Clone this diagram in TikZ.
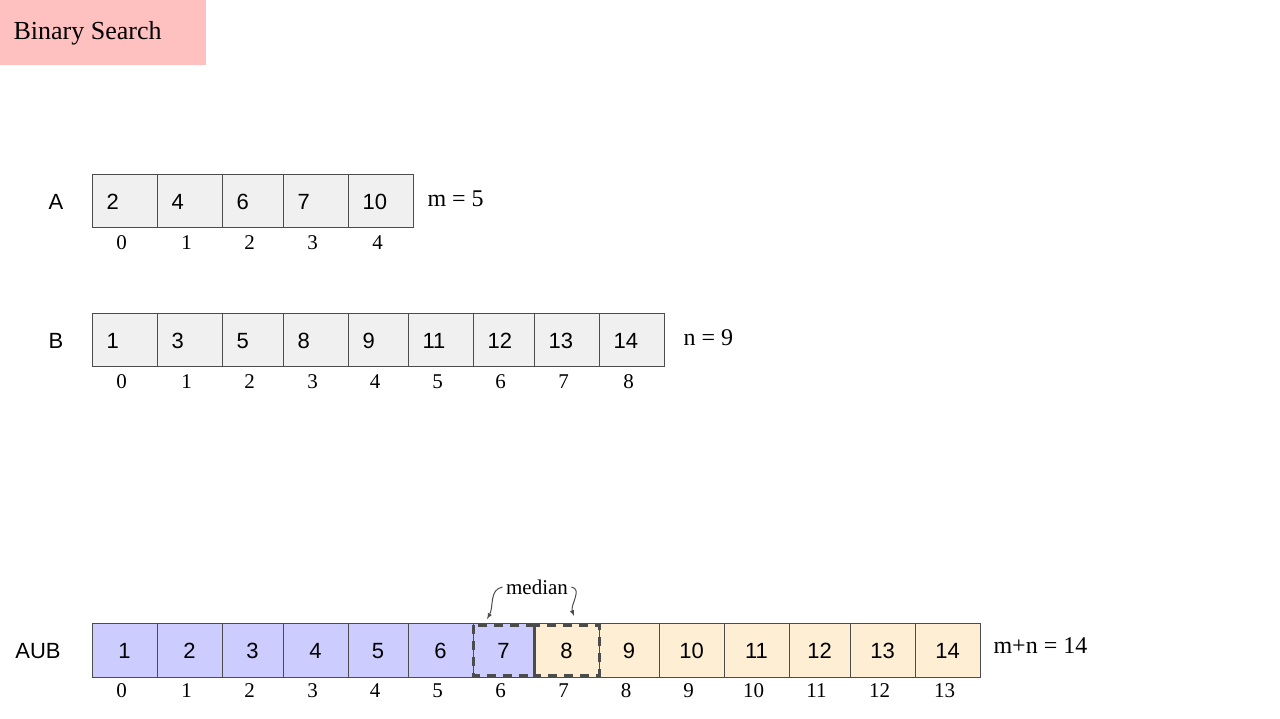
\documentclass[tikz,border=0pt]{standalone}
\usepackage{fontspec}
\setmainfont{Liberation Serif}
\newfontfamily\numfont{Liberation Sans}
\begin{document}
\begin{tikzpicture}[x=1pt,y=-1pt,
  cellA/.style={draw=black!70,line width=0.8pt,fill=black!6},
  cellL/.style={draw=black!70,line width=0.8pt,fill=blue!20!white},
  cellR/.style={draw=black!70,line width=0.8pt,fill=yellow!20!orange!15!white},
  num/.style={font=\numfont\fontsize{22}{24}\selectfont},
  idx/.style={font=\fontsize{21}{24}\selectfont},
  lab/.style={font=\fontsize{24}{26}\selectfont},
  dsh/.style={draw=black!70,line width=3pt,dash pattern=on 9pt off 7pt}]
\useasboundingbox (0,0) rectangle (1280,718);
\fill[red!40!pink!45!white] (0,0) rectangle (206,65);
\node[anchor=west,font=\fontsize{26}{28}\selectfont] (title) at (10,33) {Binary Search};
% A
\node[num] (la) at (56,202) {A};
\foreach \i/\a/\b/\v in {0/92/157/2,1/157/222/4,2/222/283/6,3/283/348/7,4/348/413/10}{
  \draw[cellA] (\a,174) rectangle (\b,227);
  \node[num,anchor=west] (a\i) at (\a+11,202) {\v};
  \node[idx] (ai\i) at ({(\a+\b)/2-3},243) {\i};
}
\node[lab,anchor=west] (m) at (424,199) {m = 5};
% B
\node[num] (lb) at (56,341) {B};
\foreach \i/\a/\b/\v in {0/92/157/1,1/157/222/3,2/222/283/5,3/283/348/8,4/348/408/9,5/408/473/11,6/473/534/12,7/534/599/13,8/599/664/14}{
  \draw[cellA] (\a,313) rectangle (\b,366);
  \node[num,anchor=west] (b\i) at (\a+11,341) {\v};
  \node[idx] (bi\i) at ({(\a+\b)/2-3},382) {\i};
}
\node[lab,anchor=west] (n) at (680,338) {n = 9};
% AUB
\node[num] (lu) at (38,651) {AUB};
\foreach \i/\a/\b/\v in {0/92/157/1,1/157/222/2,2/222/283/3,3/283/348/4,4/348/408/5,5/408/473/6,6/473/534/7}{
  \draw[cellL] (\a,623) rectangle (\b,677);
  \node[num] (u\i) at ({(\a+\b)/2},651) {\v};
  \node[idx] (ui\i) at ({(\a+\b)/2-3},691) {\i};
}
\foreach \i/\a/\b/\v in {7/534/599/8,8/599/659/9,9/659/724/10,10/724/789/11,11/789/850/12,12/850/915/13,13/915/980/14}{
  \draw[cellR] (\a,623) rectangle (\b,677);
  \node[num] (u\i) at ({(\a+\b)/2},651) {\v};
  \node[idx] (ui\i) at ({(\a+\b)/2-3},691) {\i};
}
\node[lab,anchor=west] (mn) at (990,646) {m+n = 14};
\draw[dsh] (473,625) rectangle (534,675);
\draw[dsh] (534,625) rectangle (599,675);
\node[font=\fontsize{21}{24}\selectfont] (med) at (537,587) {median};
\draw[-latex,black!70,line width=1pt] (med.west) to[out=190,in=60] (487,619);
\draw[-latex,black!70,line width=1pt] (med.east) to[out=350,in=110] (574,616);
\end{tikzpicture}
\end{document}
